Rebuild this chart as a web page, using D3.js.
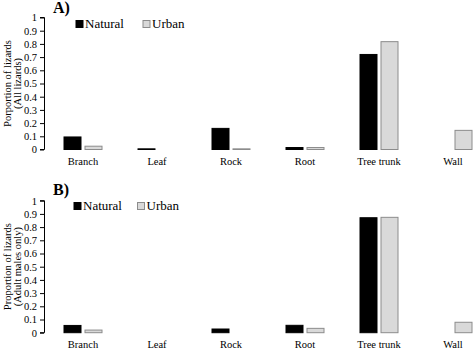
<!DOCTYPE html>
<html><head><meta charset="utf-8">
<script src="https://cdn.jsdelivr.net/npm/d3@7"></script>
<style>
body{margin:0;background:#fff;}
svg, svg text{font-family:"Liberation Serif","Times New Roman",serif;}
</style></head>
<body><svg id="c" width="474" height="349"></svg>
<script>
const categories = ["Branch","Leaf","Rock","Root","Tree trunk","Wall"];
const seriesNames = ["Natural","Urban"];
const allNatural = [0.095, 0.005, 0.16, 0.015, 0.72, 0];
const allUrban   = [0.025, 0, 0.005, 0.015, 0.817, 0.145];
const malesNatural = [0.055, 0, 0.028, 0.056, 0.871, 0];
const malesUrban   = [0.02, 0, 0, 0.033, 0.874, 0.079];
const yTicks = [0,0.1,0.2,0.3,0.4,0.5,0.6,0.7,0.8,0.9,1];
const colors = {Natural:"#000", Urban:"#d9d9d9"};
const strokes = {Natural:"#000", Urban:"#8c8c8c"};
const FONT = "'Liberation Serif', 'Times New Roman', serif";

const svg = d3.select("#c");
const x = d3.scaleBand().domain(categories).range([46, 490]).padding(0);
const x1 = d3.scaleBand().domain(seriesNames).range([18, 56]).paddingInner(4/21).paddingOuter(0);

const panels = [
  {label:"A)", nat:allNatural, urb:allUrban, y0:149.5, y1:17.5, t1:"Porportion of lizards", t2:"(All lizards)",
   labY:13, legY:20.5, legX:[76,143], catY:165},
  {label:"B)", nat:malesNatural, urb:malesUrban, y0:332.7, y1:200.7, t1:"Proportion of lizards", t2:"(Adult males only)",
   labY:195, legY:202.5, legX:[74,137.5], catY:348}
];

panels.forEach(p => {
  const y = d3.scaleLinear().domain([0,1]).range([p.y0, p.y1]);
  const g = svg.append("g").attr("font-family", FONT);
  const ax = g.append("g").attr("transform","translate(44,0)")
    .call(d3.axisLeft(y).tickValues(yTicks).tickSize(4).tickPadding(3).tickFormat(d3.format("~g")));
  ax.attr("font-family", FONT);
  ax.selectAll("path,line").attr("stroke","#000").attr("stroke-width",1);
  ax.select(".domain").attr("d", `M-4,${y(0)}H0.5V${y(1)}H-4`);
  ax.selectAll("text").attr("font-size",10.5).attr("fill","#000");

  const data = [];
  categories.forEach((c,i) => {
    data.push({c, s:"Natural", v:p.nat[i]});
    data.push({c, s:"Urban", v:p.urb[i]});
  });
  g.selectAll("rect.bar").data(data.filter(d => d.v > 0)).join("rect")
    .attr("class","bar")
    .attr("x", d => x(d.c) + x1(d.s))
    .attr("width", x1.bandwidth())
    .attr("y", d => y(d.v))
    .attr("height", d => Math.max(0.6, y(0) - y(d.v)))
    .attr("fill", d => colors[d.s])
    .attr("stroke", d => strokes[d.s])
    .attr("stroke-width", 1);

  g.selectAll("text.cat").data(categories).join("text")
    .attr("class","cat")
    .attr("x", d => x(d) + x.bandwidth()/2)
    .attr("y", p.catY)
    .attr("text-anchor","middle")
    .attr("font-size",10.5)
    .text(d => d);

  g.append("text").attr("x",53).attr("y",p.labY).attr("font-size",16).attr("font-weight","bold").text(p.label);

  const tx = g.append("text").attr("transform",`translate(10.5,${(p.y0+p.y1)/2}) rotate(-90)`)
    .attr("text-anchor","middle").attr("font-size",10.5);
  tx.append("tspan").attr("x",0).attr("dy",0).text(p.t1);
  tx.append("tspan").attr("x",0).attr("dy",10.5).text(p.t2);

  seriesNames.forEach((s,i) => {
    g.append("rect").attr("x",p.legX[i]).attr("y",p.legY).attr("width",7).attr("height",7)
      .attr("fill",colors[s]).attr("stroke",strokes[s]).attr("stroke-width",1);
    g.append("text").attr("x",p.legX[i]+9).attr("y",p.legY+7.5).attr("font-size",13).text(s);
  });
});
</script></body></html>
